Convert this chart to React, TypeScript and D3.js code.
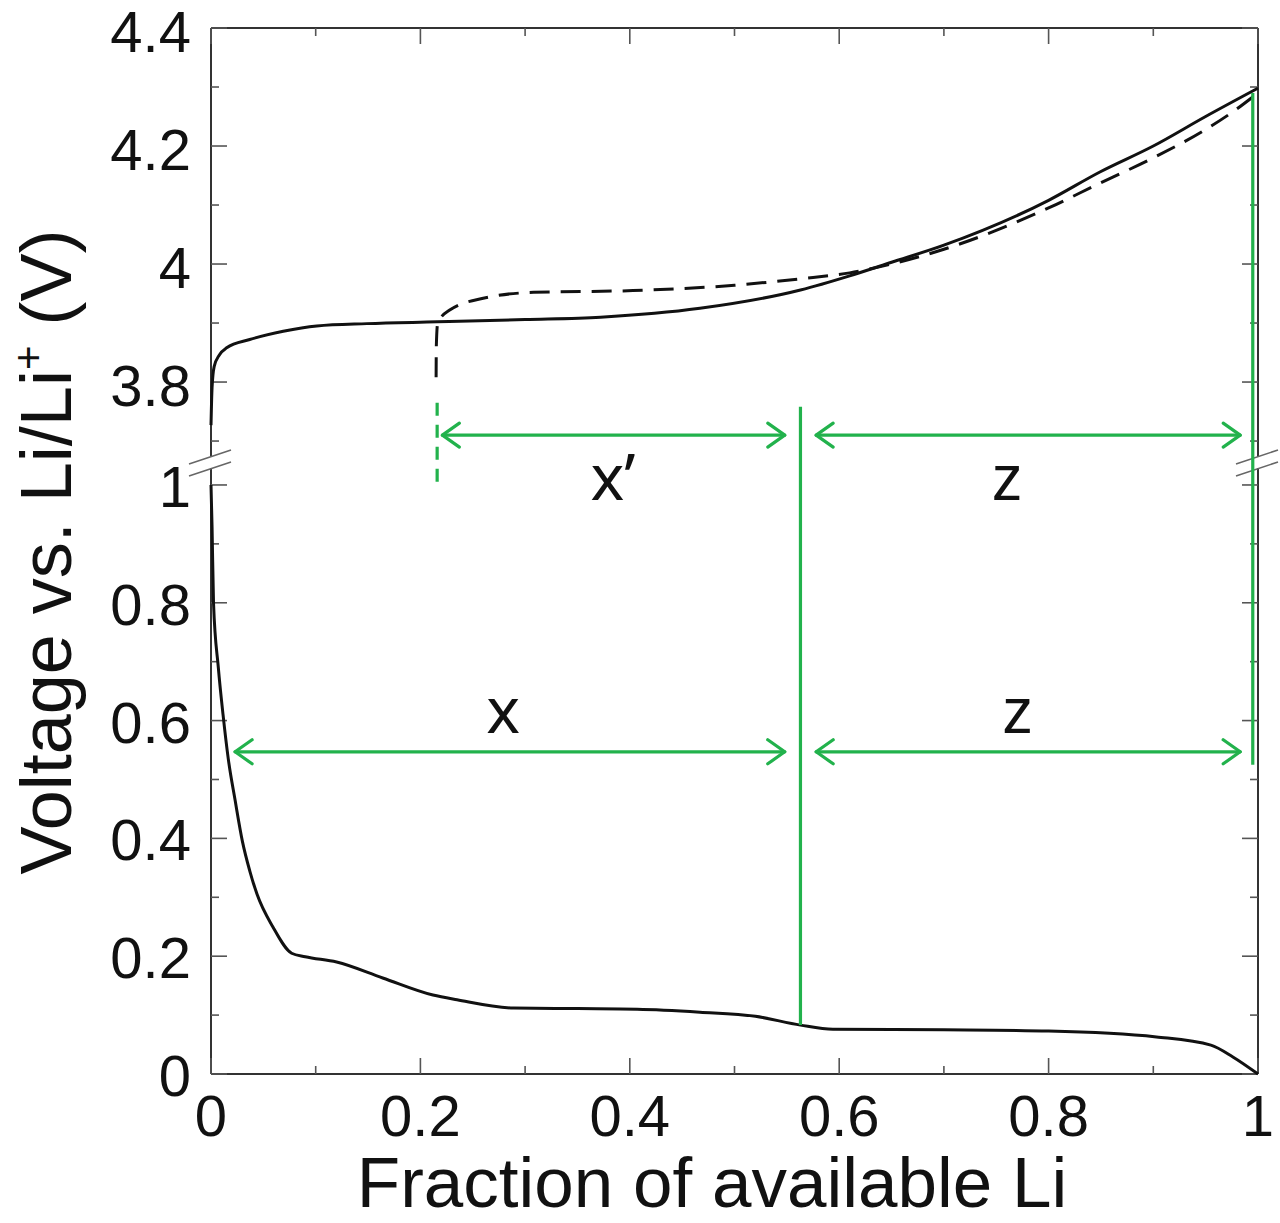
import * as d3 from "d3";

// lower panel (0 - 1.04 V): discharge curve
const fracLower = [0, 0.001, 0.0024, 0.007, 0.0115, 0.0165, 0.023, 0.03, 0.037, 0.044, 0.059, 0.077, 0.09, 0.12, 0.164, 0.212, 0.235, 0.289, 0.35, 0.407, 0.467, 0.52, 0.563, 0.594, 0.7, 0.8, 0.903, 0.955, 0.976, 1.0];
const voltLower = [1.0, 0.93, 0.8, 0.69, 0.61, 0.535, 0.465, 0.395, 0.345, 0.305, 0.25, 0.205, 0.199, 0.19, 0.163, 0.134, 0.126, 0.112, 0.111, 0.11, 0.105, 0.098, 0.083, 0.076, 0.075, 0.073, 0.063, 0.049, 0.029, 0.0];

// upper panel (3.665 - 4.4 V): solid charge curve
const fracUpperSolid = [0, 0.001, 0.003, 0.008, 0.015, 0.037, 0.069, 0.101, 0.149, 0.216, 0.3, 0.372, 0.467, 0.563, 0.61, 0.65, 0.7, 0.8, 0.849, 0.9, 0.95, 1.0];
const voltUpperSolid = [3.727, 3.79, 3.826, 3.846, 3.858, 3.872, 3.886, 3.895, 3.899, 3.902, 3.906, 3.91, 3.925, 3.956, 3.98, 4.003, 4.032, 4.108, 4.156, 4.2, 4.25, 4.298];

// upper panel: dashed curve
const fracUpperDashed = [0.215, 0.2152, 0.2165, 0.228, 0.26, 0.308, 0.403, 0.5, 0.563, 0.61, 0.65, 0.7, 0.8, 0.849, 0.9, 0.95, 0.976, 1.0];
const voltUpperDashed = [3.808, 3.86, 3.9, 3.922, 3.942, 3.952, 3.955, 3.964, 3.975, 3.985, 4.0, 4.025, 4.095, 4.137, 4.18, 4.228, 4.258, 4.29];

// axis ticks
const xTickValues = [0, 0.2, 0.4, 0.6, 0.8, 1];
const xTickLabels = ["0", "0.2", "0.4", "0.6", "0.8", "1"];
const upperTickValues = [3.8, 4, 4.2, 4.4];
const upperTickLabels = ["3.8", "4", "4.2", "4.4"];
const lowerTickValues = [0, 0.2, 0.4, 0.6, 0.8, 1];
const lowerTickLabels = ["0", "0.2", "0.4", "0.6", "0.8", "1"];

// annotation arrows
const arrowLabels = ["x\u2019", "z", "x", "z"];
const arrowStart = [0.221, 0.578, 0.023, 0.578];
const arrowEnd = [0.548, 0.983, 0.548, 0.983];
const arrowVolt = [3.71, 3.71, 0.547, 0.547];
const arrowInUpper = [true, true, false, false];
const arrowLabelFrac = [0.384, 0.76, 0.279, 0.77];

// vertical guide lines (x' onset, split, end)
const guideFrac = [0.216, 0.563, 0.995];
const guideTopVolt = [3.765, 3.758, 4.29];
const guideBottomVolt = [0.99, 0.083, 0.525];

const W = 1280;
const H = 1223;
const GREEN = "#22b24c";
const FONT = "'Liberation Sans', Arial, sans-serif";
const ANNOT_FONT = "'Noto Sans', 'Open Sans', sans-serif";

const x = d3.scaleLinear().domain([0, 1]).range([211, 1258]);
const yHi = d3.scaleLinear().domain([3.665, 4.4]).range([461.7, 28]);
const yLo = d3.scaleLinear().domain([0, 1.04]).range([1074, 461.4]);

const curvePath = (fr: number[], vo: number[], y: d3.ScaleLinear<number, number>) =>
  d3
    .line<number>()
    .x((d) => x(d))
    .y((_, i) => y(vo[i]))
    .curve(d3.curveMonotoneX)(fr) ?? "";

export default function App() {
  const [left, right] = x.range();
  const top = yHi(4.4);
  const bottom = yLo(0);
  const gapTop = 457;
  const gapBottom = 468;

  const lowerPath = curvePath(fracLower, voltLower, yLo);
  const solidPath = curvePath(fracUpperSolid, voltUpperSolid, yHi);
  const dashedPath = curvePath(fracUpperDashed, voltUpperDashed, yHi);

  const xMinor = d3.range(0, 11).map((i) => i / 10);
  const upperMinor = d3.range(37, 45).map((i) => i / 10);
  const lowerMinor = d3.range(0, 11).map((i) => i / 10);
  const isMajor = (v: number) => Math.abs(Math.round(v * 10) % 2) === 0;

  const breakMarks = (cx: number) => (
    <g stroke="#666" strokeWidth={1.6}>
      <line x1={cx - 22} y1={464} x2={cx + 20} y2={450} />
      <line x1={cx - 22} y1={476} x2={cx + 20} y2={462} />
    </g>
  );

  return (
    <svg
      width={W}
      height={H}
      style={{ position: "absolute", left: 0, top: 0, background: "#fff" }}
      fontFamily={FONT}
    >
      {/* frame */}
      <g stroke="#333" strokeWidth={2} fill="none">
        <line x1={left} y1={top} x2={right} y2={top} />
        <line x1={left} y1={bottom} x2={right} y2={bottom} />
        <line x1={left} y1={top} x2={left} y2={gapTop} />
        <line x1={left} y1={gapBottom} x2={left} y2={bottom} />
        <line x1={right} y1={top} x2={right} y2={gapTop} />
        <line x1={right} y1={gapBottom} x2={right} y2={bottom} />
      </g>

      {/* ticks */}
      <g stroke="#555" strokeWidth={1.6}>
        {xMinor.map((v) => {
          const len = isMajor(v) ? 16 : 8;
          return (
            <g key={`xt${v}`}>
              <line x1={x(v)} x2={x(v)} y1={bottom} y2={bottom - len} />
              <line x1={x(v)} x2={x(v)} y1={top} y2={top + len} />
            </g>
          );
        })}
        {upperMinor.map((v) => {
          const len = isMajor(v) ? 16 : 8;
          return (
            <g key={`yh${v}`}>
              <line x1={left} x2={left + len} y1={yHi(v)} y2={yHi(v)} />
              <line x1={right} x2={right - len} y1={yHi(v)} y2={yHi(v)} />
            </g>
          );
        })}
        {lowerMinor.map((v) => {
          const len = isMajor(v) ? 16 : 8;
          return (
            <g key={`yl${v}`}>
              <line x1={left} x2={left + len} y1={yLo(v)} y2={yLo(v)} />
              <line x1={right} x2={right - len} y1={yLo(v)} y2={yLo(v)} />
            </g>
          );
        })}
      </g>

      {breakMarks(left)}
      {breakMarks(right)}

      {/* tick labels */}
      <g fontSize={58} fill="#111">
        {xTickValues.map((v, i) => (
          <text key={`xl${v}`} x={x(v)} y={1136} textAnchor="middle">
            {xTickLabels[i]}
          </text>
        ))}
        {upperTickValues.map((v, i) => (
          <text key={`ul${v}`} x={191} y={yHi(v)} dy="0.42em" textAnchor="end">
            {upperTickLabels[i]}
          </text>
        ))}
        {lowerTickValues.map((v, i) => (
          <text key={`ll${v}`} x={191} y={yLo(v)} dy="0.38em" textAnchor="end">
            {lowerTickLabels[i]}
          </text>
        ))}
      </g>

      {/* axis titles */}
      <text x={712} y={1207} fontSize={71} textAnchor="middle" fill="#111">
        Fraction of available Li
      </text>
      <text
        transform="translate(71,552) rotate(-90)"
        fontSize={72}
        textAnchor="middle"
        fill="#111"
      >
        Voltage vs. Li/Li
        <tspan fontSize={42} dy={-28}>
          +
        </tspan>
        <tspan dy={28}> (V)</tspan>
      </text>

      {/* curves */}
      <path d={lowerPath} fill="none" stroke="#111" strokeWidth={3} />
      <path d={solidPath} fill="none" stroke="#111" strokeWidth={3} />
      <path d={dashedPath} fill="none" stroke="#111" strokeWidth={3} strokeDasharray="20 11" />

      {/* guide lines */}
      <g stroke={GREEN} strokeWidth={3.2} fill="none">
        {guideFrac.map((f, i) => (
          <line
            key={`g${i}`}
            x1={x(f)}
            x2={x(f)}
            y1={yHi(guideTopVolt[i])}
            y2={yLo(guideBottomVolt[i])}
            strokeDasharray={i === 0 ? "13 9" : undefined}
          />
        ))}
      </g>

      {/* arrows */}
      <g stroke={GREEN} strokeWidth={3.2} fill="none" strokeLinecap="round" strokeLinejoin="round">
        {arrowStart.map((s, i) => {
          const yy = arrowInUpper[i] ? yHi(arrowVolt[i]) : yLo(arrowVolt[i]);
          const x0 = x(s);
          const x1 = x(arrowEnd[i]);
          return (
            <g key={`a${i}`}>
              <line x1={x0} x2={x1} y1={yy} y2={yy} />
              <path d={`M${x0 + 17},${yy - 12}L${x0},${yy}L${x0 + 17},${yy + 12}`} />
              <path d={`M${x1 - 17},${yy - 12}L${x1},${yy}L${x1 - 17},${yy + 12}`} />
            </g>
          );
        })}
      </g>
      <g fontFamily={ANNOT_FONT} fontSize={64} fill="#111" textAnchor="middle">
        {arrowLabels.map((lab, i) => {
          const yy = arrowInUpper[i] ? yHi(arrowVolt[i]) : yLo(arrowVolt[i]);
          return (
            <text key={`al${i}`} x={x(arrowLabelFrac[i])} y={arrowInUpper[i] ? yy + 65 : yy - 19}>
              {lab}
            </text>
          );
        })}
      </g>
    </svg>
  );
}
